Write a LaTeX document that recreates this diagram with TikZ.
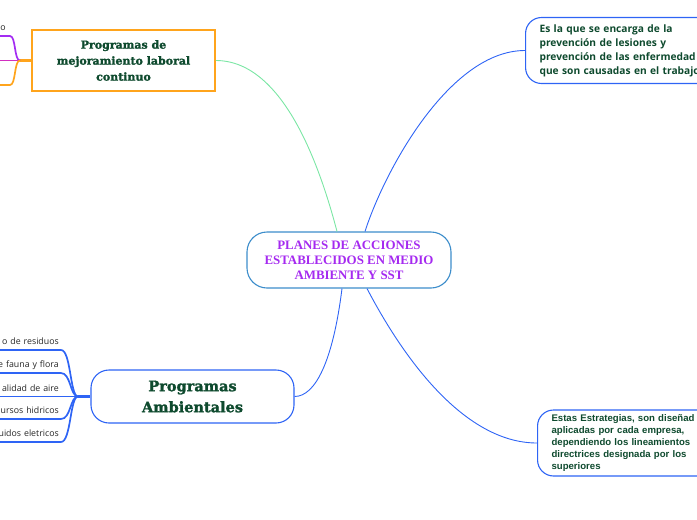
\documentclass[tikz,border=0pt]{standalone}
\usepackage{fontspec}
\setmainfont{Liberation Serif}
\newfontfamily\slabfont{DejaVu Serif}[BoldFeatures={FakeBold=1.6}]
\newfontfamily\humanfont{Open Sans}
\newfontfamily\arialfont{Liberation Sans}
\usetikzlibrary{positioning}
\definecolor{planpurple}{HTML}{A52AF0}
\definecolor{hubblue}{HTML}{3C8DCB}
\definecolor{linkblue}{HTML}{2E64F5}
\definecolor{linkgreen}{HTML}{7BE6A4}
\definecolor{laborange}{HTML}{FFA41C}
\definecolor{leafpurple}{HTML}{A32CF2}
\definecolor{leafmagenta}{HTML}{D22FC0}
\definecolor{titlegreen}{HTML}{0E4A2E}

\begin{document}
\begin{tikzpicture}[x=1pt, y=-1pt,
  hub/.style={draw=hubblue, line width=1.1pt, rounded corners=20pt, fill=white,
    font=\fontsize{12.9}{15}\selectfont\bfseries, text=planpurple, align=center,
    minimum width=204pt, minimum height=56pt},
  laborbox/.style={draw=laborange, line width=1.6pt, fill=white,
    font=\slabfont\fontsize{11}{16}\selectfont\bfseries, text=titlegreen, align=center,
    minimum width=183pt, minimum height=61pt},
  ambbox/.style={draw=linkblue, line width=1.1pt, rounded corners=18pt, fill=white,
    font=\slabfont\fontsize{14.5}{21}\selectfont\bfseries, text=titlegreen, align=center,
    minimum width=203pt, minimum height=53pt},
  infobox/.style={draw=linkblue, line width=1.1pt, rounded corners=16pt, fill=white,
    anchor=west, align=left, text width=200pt, inner xsep=14pt, minimum height=66pt,
    text=titlegreen},
  leaf/.style={anchor=south east, inner xsep=0pt, inner ysep=5pt, text depth=0pt,
    text width=62pt, align=right, font=\humanfont\fontsize{8.8}{11}\selectfont, text=black!85},
  link/.style={line width=0.9pt},
  leafline/.style={line width=1.7pt},
  leafstem/.style={line width=2.4pt}]
  \useasboundingbox (0,0) rectangle (697,520);
  \clip (0,0) rectangle (697,520);

  % --- Hub and branch boxes ---
  \node[hub] (plan) at (349,260) {PLANES DE ACCIONES\\ESTABLECIDOS EN MEDIO\\AMBIENTE Y SST};
  \node[laborbox] (labor) at (123.5,60.5) {Programas de\\mejoramiento laboral\\continuo};
  \node[ambbox] (amb) at (192.5,396.5) {Programas\\Ambientales};
  \node[infobox, font=\humanfont\fontsize{10.2}{14}\selectfont\bfseries] (prev) at (525,50.5)
    {Es la que se encarga de la\\prevención de lesiones y\\prevención de las enfermedad\\que son causadas en el trabajo};
  \node[infobox, font=\arialfont\fontsize{9.6}{12}\selectfont\bfseries] (estr) at (537,443)
    {Estas Estrategias, son diseñad\\aplicadas por cada empresa,\\dependiendo los lineamientos\\directrices designada por los\\superiores};

  % --- Hub connectors ---
  \draw[link, linkgreen] ([xshift=-12pt]plan.north) .. controls +(-15,-57) and +(70,0) .. (labor.east);
  \draw[link, linkblue] ([xshift=16pt]plan.north) .. controls +(20,-62) and +(-75,0) .. (prev.west);
  \draw[link, linkblue] ([xshift=-7pt]plan.south) .. controls +(-9,72) and +(21,0) .. (amb.east);
  \draw[link, linkblue] ([xshift=18pt]plan.south) .. controls +(43,82) and +(-67,0) .. (estr.west);

  % --- Leaves of the environmental programmes ---
  \coordinate (ambj) at (78,396.5);
  \draw[leafstem, linkblue] (ambj) -- (amb.west);
  \foreach \name/\yy/\txt in {res/350/o de residuos, fau/373/e fauna y flora,
      air/396.5/alidad de aire, hid/419/ursos hidricos, ele/442/uidos eletricos} {
    \node[leaf] (\name) at (59,\yy) {\txt};
    \draw[leafline, linkblue] (ambj) .. controls +(-8,0) and +(10,0) .. ([xshift=2pt]\name.south east) -- (\name.south west);
  }

  % --- Leaves of the labour programmes ---
  \coordinate (laborj) at (20,60.5);
  \draw[leafstem, laborange] (laborj) -- (labor.west);
  \node[leaf, text width=6pt] (tlo) at (6,36) {o};
  \draw[leafline, leafpurple] (laborj) .. controls +(-6,0) and +(6,0) .. ([xshift=4pt]tlo.south east) -- (tlo.south west);
  \coordinate (tlm) at (0,60.5);
  \draw[leafline, leafmagenta] (laborj) -- (tlm);
  \coordinate (tlb) at (0,85);
  \draw[leafline, laborange] (laborj) .. controls +(-6,0) and +(6,0) .. ([xshift=10pt]tlb) -- (tlb);
\end{tikzpicture}
\end{document}
